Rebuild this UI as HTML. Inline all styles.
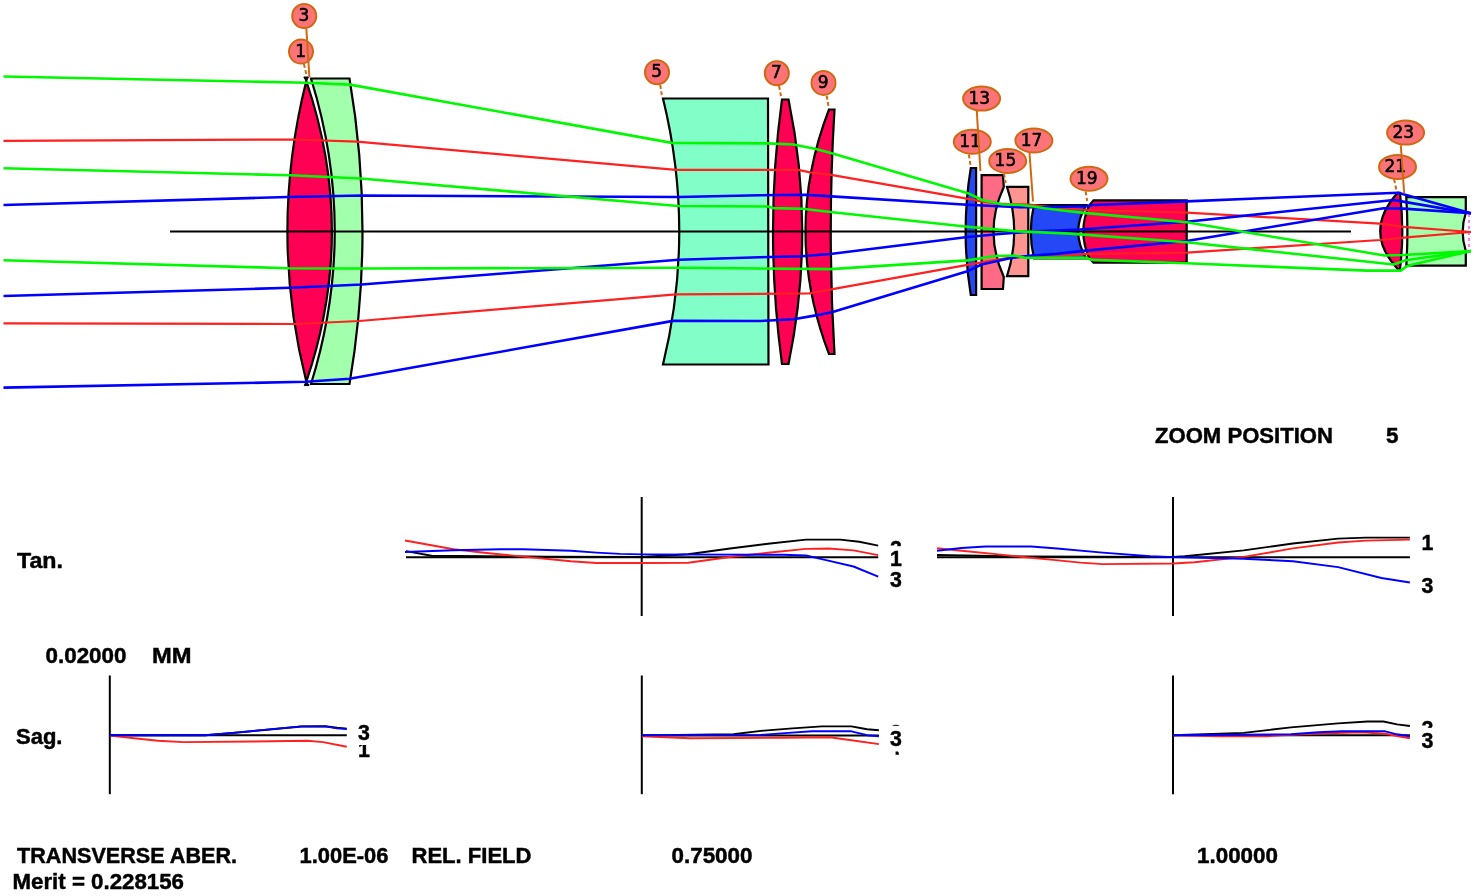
<!DOCTYPE html>
<html lang="en">
<head>
<meta charset="utf-8">
<title>Zoom lens layout and transverse aberration</title>
<style>
html,body{margin:0;padding:0;background:#fff;}
body{width:1474px;height:896px;overflow:hidden;}
svg{display:block;filter:blur(0.35px);}
.t{font-family:"Liberation Sans",Arial,sans-serif;font-weight:bold;font-size:21.3px;fill:#000;stroke:#000;stroke-width:0.45px;}
.lb{font-family:"DejaVu Sans","Liberation Sans",sans-serif;font-weight:normal;font-size:17px;fill:#000;stroke:#000;stroke-width:0.55px;}
</style>
</head>
<body>
<svg width="1474" height="896" viewBox="0 0 1474 896">
<rect width="1474" height="896" fill="#fff"/>
<g id="lenses">
<path d="M306.3,81 Q357.5,231.4 306.3,381.6 Q268.5,231.4 306.3,81 Z" fill="#FF0055" stroke="#000" stroke-width="2.2" stroke-linejoin="miter"/>
<path d="M303.8,77 L308.4,77 L306.3,81.5 Z M304.2,385.6 L309,385.6 L306.3,381 Z" fill="#000" stroke="#000" stroke-width="1" stroke-linejoin="round"/>
<path d="M311,78.5 L349.5,78.5 Q375.5,231.4 349.5,384 L311,384 Q358.5,231.4 311,78.5 Z" fill="#A2FFAC" stroke="#000" stroke-width="2.2" stroke-linejoin="miter"/>
<path d="M663,98.5 L768,98.5 L768.5,364.5 L663,364.5 Q695.5,231.4 663,98.5 Z" fill="#82FFC8" stroke="#000" stroke-width="2.2" stroke-linejoin="miter"/>
<path d="M782,99.5 L788.5,99.5 Q816,231.4 788.5,364 L782,364 Q764,231.4 782,99.5 Z" fill="#FF0055" stroke="#000" stroke-width="2.2" stroke-linejoin="miter"/>
<path d="M829,109.5 L834.5,109.5 Q827,231.4 834.5,354 L829,354 Q782,231.4 829,109.5 Z" fill="#FF0055" stroke="#000" stroke-width="2.2" stroke-linejoin="miter"/>
<path d="M970.8,168 L976.1,168 L976.1,295 L970.8,295 Q960.4,231.4 970.8,168 Z" fill="#2448F5" stroke="#000" stroke-width="2.2" stroke-linejoin="miter"/>
<path d="M981.6,175.2 L1003,175.2 L1003.8,187 Q983.2,231.4 1003.8,277 L1003,289 L981.6,289 Z" fill="#FF6A84" stroke="#000" stroke-width="2.2" stroke-linejoin="miter"/>
<path d="M1007,186.8 L1028.3,186.8 L1028.3,276.2 L1007,276.2 Q1021.5,231.4 1007,186.8 Z" fill="#FF9590" stroke="#000" stroke-width="2.2" stroke-linejoin="miter"/>
<path d="M1034,205.1 L1086.2,205.1 Q1070.2,231.4 1086.2,258.3 L1034,258.3 Q1027.6,231.4 1034,205.1 Z" fill="#2448F5" stroke="#000" stroke-width="2.2" stroke-linejoin="miter"/>
<path d="M1089,205.6 L1093.5,200.3 L1186.7,200.3 L1186.7,262.7 L1093.5,262.7 L1089,257.7 Q1077.6,231.4 1089,205.6 Z" fill="#FF0055" stroke="#000" stroke-width="2.2" stroke-linejoin="miter"/>
<path d="M1397.7,192.8 L1400,192.8 Q1404.6,231.4 1400,269 L1397.7,269 Q1362.8,231.4 1397.7,192.8 Z" fill="#FF0055" stroke="#000" stroke-width="2.2" stroke-linejoin="miter"/>
<path d="M1406.3,197.2 L1465.8,197.2 L1465.8,213 Q1459.5,231.4 1465.8,251 L1465.8,265.7 L1406.3,265.7 Q1408.5,231.4 1406.3,197.2 Z" fill="#A2FFAC" stroke="#000" stroke-width="2.2" stroke-linejoin="miter"/>
</g>
<line x1="170" y1="231.4" x2="1351" y2="231.4" stroke="#000" stroke-width="2"/>
<line x1="1469" y1="214" x2="1469" y2="251" stroke="#FF50F0" stroke-width="1.5" stroke-dasharray="3,3"/>
<g id="rays">
<polyline points="3.5,140.8 293.0,139.5 357.0,141.6 676.0,169.9 798.0,169.8 810.2,172.4 832.6,175.2 974.0,199.9 978.3,200.9 997.4,203.6 1029.0,204.6 1056.0,207.7 1087.0,210.0 1186.7,212.6 1380.0,223.6 1403.6,226.8 1470.9,232.0" fill="none" stroke="#FF2020" stroke-width="2.2" stroke-linejoin="round"/>
<polyline points="3.5,323.4 295.0,324.0 359.4,321.0 675.8,294.3 760.0,293.9 809.1,293.4 832.6,289.2 967.4,264.8 997.4,259.7 1013.3,257.1 1059.0,256.3 1084.0,254.2 1186.7,252.7 1380.0,240.0 1403.6,237.7 1470.9,232.0" fill="none" stroke="#FF2020" stroke-width="2.2" stroke-linejoin="round"/>
<polyline points="3.5,205.0 288.0,197.0 361.6,195.5 679.0,197.0 760.0,195.3 804.7,194.7 831.4,196.4 967.4,204.8 1020.0,207.3 1034.0,207.3 1086.5,206.3 1093.3,205.0 1186.7,201.4 1398.2,192.7 1470.9,213.2" fill="none" stroke="#0000FF" stroke-width="2.6" stroke-linejoin="round"/>
<polyline points="3.5,296.0 291.0,287.8 361.6,284.5 678.6,259.8 760.0,257.3 801.3,256.2 830.3,254.0 967.4,237.0 1002.7,233.8 1031.3,231.6 1080.0,229.5 1186.7,221.8 1393.6,200.0 1403.0,201.6 1470.9,213.2" fill="none" stroke="#0000FF" stroke-width="2.6" stroke-linejoin="round"/>
<polyline points="3.5,387.6 306.0,381.8 349.5,378.8 673.0,320.9 760.0,321.0 793.5,319.3 815.8,315.4 832.6,312.0 967.4,271.3 981.5,264.5 1013.3,257.6 1032.0,255.6 1056.6,253.8 1081.0,251.1 1186.7,241.0 1383.6,208.2 1403.6,208.6 1470.9,213.2" fill="none" stroke="#0000FF" stroke-width="2.6" stroke-linejoin="round"/>
<polyline points="3.5,76.5 306.5,82.8 350.0,84.6 671.8,142.9 768.0,143.4 793.5,144.5 815.8,149.0 832.6,153.4 967.9,193.2 982.1,200.0 1001.8,204.3 1020.0,205.0 1034.0,206.5 1044.4,208.3 1062.7,210.5 1084.1,212.9 1186.7,222.3 1384.5,255.5 1402.7,255.0 1470.9,251.1" fill="none" stroke="#00F800" stroke-width="2.6" stroke-linejoin="round"/>
<polyline points="3.5,168.3 290.0,175.3 361.0,178.5 678.0,206.0 767.8,206.5 773.4,208.1 802.4,208.7 830.3,212.0 967.4,226.8 1014.4,231.1 1070.0,233.6 1186.7,242.2 1393.6,264.5 1405.5,260.2 1470.9,251.1" fill="none" stroke="#00F800" stroke-width="2.6" stroke-linejoin="round"/>
<polyline points="3.5,260.2 288.7,268.2 361.6,268.5 679.0,267.8 760.0,268.5 830.3,269.1 967.4,260.4 995.3,256.0 1014.4,255.5 1024.0,257.6 1086.5,257.9 1092.6,259.9 1186.7,263.3 1367.3,270.6 1400.9,270.6 1406.4,266.4 1412.7,264.5 1470.9,251.1" fill="none" stroke="#00F800" stroke-width="2.6" stroke-linejoin="round"/>
</g>
<g id="labels">
<ellipse cx="304.2" cy="16" rx="12" ry="12" fill="#FC7478" stroke="#D06812" stroke-width="2"/><text x="303.9" y="21.0" text-anchor="middle" class="lb">3</text>
<ellipse cx="301" cy="51.6" rx="12" ry="12" fill="#FC7478" stroke="#D06812" stroke-width="2"/><text x="300.7" y="56.6" text-anchor="middle" class="lb">1</text>
<ellipse cx="657" cy="72.3" rx="12" ry="12" fill="#FC7478" stroke="#D06812" stroke-width="2"/><text x="656.7" y="77.3" text-anchor="middle" class="lb">5</text>
<ellipse cx="776.8" cy="73.3" rx="12" ry="12" fill="#FC7478" stroke="#D06812" stroke-width="2"/><text x="776.5" y="78.3" text-anchor="middle" class="lb">7</text>
<ellipse cx="823.5" cy="82.9" rx="12" ry="12" fill="#FC7478" stroke="#D06812" stroke-width="2"/><text x="823.2" y="87.9" text-anchor="middle" class="lb">9</text>
<ellipse cx="981.6" cy="98.6" rx="18.5" ry="12" fill="#FC7478" stroke="#D06812" stroke-width="2"/><text x="979.3000000000001" y="103.6" text-anchor="middle" class="lb">13</text>
<ellipse cx="972.3" cy="141.8" rx="18.5" ry="12" fill="#FC7478" stroke="#D06812" stroke-width="2"/><text x="970.0" y="146.8" text-anchor="middle" class="lb">11</text>
<ellipse cx="1007.7" cy="161" rx="18.5" ry="12" fill="#FC7478" stroke="#D06812" stroke-width="2"/><text x="1005.4000000000001" y="166.0" text-anchor="middle" class="lb">15</text>
<ellipse cx="1033.9" cy="140.5" rx="18.5" ry="12" fill="#FC7478" stroke="#D06812" stroke-width="2"/><text x="1031.6000000000001" y="145.5" text-anchor="middle" class="lb">17</text>
<ellipse cx="1089" cy="178.8" rx="18.5" ry="12" fill="#FC7478" stroke="#D06812" stroke-width="2"/><text x="1086.7" y="183.8" text-anchor="middle" class="lb">19</text>
<ellipse cx="1405.6" cy="132.6" rx="18.5" ry="12" fill="#FC7478" stroke="#D06812" stroke-width="2"/><text x="1403.3" y="137.6" text-anchor="middle" class="lb">23</text>
<ellipse cx="1397.5" cy="166.9" rx="18.5" ry="12" fill="#FC7478" stroke="#D06812" stroke-width="2"/><text x="1395.2" y="171.9" text-anchor="middle" class="lb">21</text>
<line x1="306.3" y1="28.2" x2="309.4" y2="77" stroke="#D06812" stroke-width="2"/>
<line x1="303.9" y1="63.8" x2="306.3" y2="74" stroke="#D06812" stroke-width="2" stroke-dasharray="4,2.5"/>
<line x1="660.2" y1="85" x2="661.8" y2="95" stroke="#D06812" stroke-width="2" stroke-dasharray="4,2.5"/>
<line x1="779" y1="86" x2="781" y2="96" stroke="#D06812" stroke-width="2" stroke-dasharray="4,2.5"/>
<line x1="826.7" y1="95.6" x2="828.4" y2="106" stroke="#D06812" stroke-width="2" stroke-dasharray="4,2.5"/>
<line x1="976.8" y1="111" x2="980.4" y2="171" stroke="#D06812" stroke-width="2"/>
<line x1="968.8" y1="154.5" x2="970.5" y2="165" stroke="#D06812" stroke-width="2" stroke-dasharray="4,2.5"/>
<line x1="1004" y1="173.6" x2="1005.7" y2="183" stroke="#D06812" stroke-width="2" stroke-dasharray="4,2.5"/>
<line x1="1029.5" y1="153" x2="1033" y2="201.5" stroke="#D06812" stroke-width="2"/>
<line x1="1085.6" y1="191.5" x2="1087.2" y2="201" stroke="#D06812" stroke-width="2" stroke-dasharray="4,2.5"/>
<line x1="1400.8" y1="145.2" x2="1404.2" y2="193.5" stroke="#D06812" stroke-width="2"/>
<line x1="1394.1" y1="179.2" x2="1396.3" y2="189.5" stroke="#D06812" stroke-width="2" stroke-dasharray="4,2.5"/>
</g>
<g id="plots">
<line x1="641.7" y1="497" x2="641.7" y2="616" stroke="#000" stroke-width="2"/>
<line x1="406" y1="557.2" x2="878.2" y2="557.2" stroke="#000" stroke-width="2"/>
<polyline points="406.0,551.1 431.6,555.7 547.0,556.6 641.7,557.0 688.2,554.2 730.0,548.5 768.0,543.7 806.0,539.6 840.2,539.6 859.2,541.8 878.2,545.6" fill="none" stroke="#000" stroke-width="1.9" stroke-linejoin="round"/>
<polyline points="405.0,540.5 453.6,549.3 486.6,553.0 523.2,556.6 570.9,561.2 596.5,563.0 641.7,563.0 688.2,562.7 730.0,557.0 768.0,552.7 806.0,548.9 828.8,548.5 853.5,550.4 878.2,555.1" fill="none" stroke="#FF2020" stroke-width="1.9" stroke-linejoin="round"/>
<polyline points="405.0,552.0 453.6,550.2 501.0,549.3 523.0,549.3 571.0,550.8 596.5,552.6 620.0,553.9 641.7,554.4 783.2,554.8 806.0,555.5 825.0,559.9 853.5,566.5 878.2,576.6" fill="none" stroke="#0000FF" stroke-width="1.9" stroke-linejoin="round"/>
<text x="890" y="555.8" class="t">2</text>
<rect x="888" y="546.2" width="16" height="25" fill="#fff"/>
<text x="890" y="566.0" class="t">1</text>
<rect x="888" y="566.9000000000001" width="16" height="25" fill="#fff"/>
<text x="890" y="586.7" class="t">3</text>
<line x1="1173" y1="497" x2="1173" y2="616" stroke="#000" stroke-width="2"/>
<line x1="937" y1="557.2" x2="1409.9" y2="557.2" stroke="#000" stroke-width="2"/>
<polyline points="937.0,555.0 1020.0,556.5 1173.0,557.0 1184.7,556.3 1243.7,550.4 1292.9,543.5 1338.1,538.6 1365.7,537.6 1409.9,537.6" fill="none" stroke="#000" stroke-width="1.9" stroke-linejoin="round"/>
<polyline points="937.0,548.3 961.6,550.7 998.3,554.4 1020.3,556.8 1053.2,559.9 1080.7,562.6 1102.7,564.1 1173.2,563.5 1194.5,562.2 1243.7,556.9 1292.9,548.4 1338.1,542.5 1365.7,540.6 1409.9,539.6" fill="none" stroke="#FF2020" stroke-width="1.9" stroke-linejoin="round"/>
<polyline points="937.0,550.7 961.6,548.0 985.5,546.5 1031.2,546.5 1057.0,548.5 1102.7,552.6 1150.3,556.2 1173.2,557.1 1243.7,558.7 1292.9,561.2 1338.1,567.1 1381.4,578.0 1409.9,582.5" fill="none" stroke="#0000FF" stroke-width="1.9" stroke-linejoin="round"/>
<text x="1421.5" y="548.0" class="t">2</text>
<rect x="1419.5" y="530.0" width="16" height="25" fill="#fff"/>
<text x="1421.5" y="549.8" class="t">1</text>
<rect x="1419.5" y="573.5" width="16" height="25" fill="#fff"/>
<text x="1421.5" y="593.3" class="t">3</text>
<line x1="109.8" y1="675.5" x2="109.8" y2="794.2" stroke="#000" stroke-width="2"/>
<line x1="109.8" y1="735.3" x2="346.8" y2="735.3" stroke="#000" stroke-width="2"/>
<polyline points="109.8,735.2 205.2,735.2 232.7,733.0 264.2,730.0 301.6,726.5 325.2,726.2 337.0,727.8 346.8,728.6" fill="none" stroke="#000" stroke-width="1.9" stroke-linejoin="round"/>
<polyline points="109.8,735.6 134.3,738.2 158.0,740.8 183.5,742.1 252.4,741.5 307.5,740.8 323.2,742.1 346.8,746.7" fill="none" stroke="#FF2020" stroke-width="1.9" stroke-linejoin="round"/>
<polyline points="109.8,735.2 205.2,735.2 232.7,732.9 264.2,729.9 301.6,726.4 325.2,726.4 337.0,728.4 346.8,729.0" fill="none" stroke="#0000FF" stroke-width="1.9" stroke-linejoin="round"/>
<text x="358" y="756.9" class="t">1</text>
<rect x="356" y="720.0" width="16" height="25" fill="#fff"/>
<text x="358" y="739.8" class="t">3</text>
<line x1="641.8" y1="675.5" x2="641.8" y2="794.2" stroke="#000" stroke-width="2"/>
<line x1="641.8" y1="735.5" x2="878.9" y2="735.5" stroke="#000" stroke-width="2"/>
<polyline points="641.9,735.4 733.4,734.3 760.9,730.9 792.4,728.4 821.9,726.4 851.4,726.4 867.1,729.3 878.9,730.3" fill="none" stroke="#000" stroke-width="1.9" stroke-linejoin="round"/>
<polyline points="641.9,736.2 690.0,738.2 782.5,737.8 829.8,737.2 851.4,740.2 878.9,744.1" fill="none" stroke="#FF2020" stroke-width="1.9" stroke-linejoin="round"/>
<polyline points="641.9,735.2 760.9,734.9 788.4,732.9 812.0,731.3 851.4,731.3 867.1,735.2 878.9,736.2" fill="none" stroke="#0000FF" stroke-width="1.9" stroke-linejoin="round"/>
<text x="890" y="739.8" class="t">2</text>
<clipPath id="c1"><rect x="895.6" y="751.6" width="3.2" height="3.2"/></clipPath>
<g clip-path="url(#c1)"><text x="890" y="754.6" class="t">1</text></g>
<rect x="888" y="725.9000000000001" width="16" height="25" fill="#fff"/>
<text x="890" y="745.7" class="t">3</text>
<line x1="1173" y1="675.5" x2="1173" y2="794.2" stroke="#000" stroke-width="2"/>
<line x1="1173" y1="735.3" x2="1409.9" y2="735.3" stroke="#000" stroke-width="2"/>
<polyline points="1173.0,735.2 1243.7,732.9 1290.9,727.4 1338.1,723.4 1367.6,721.5 1383.4,721.5 1397.1,724.4 1409.9,726.0" fill="none" stroke="#000" stroke-width="1.9" stroke-linejoin="round"/>
<polyline points="1173.0,735.4 1220.0,736.2 1267.0,736.2 1318.0,733.5 1361.7,732.3 1385.3,733.7 1397.0,736.0 1409.9,738.2" fill="none" stroke="#FF2020" stroke-width="1.9" stroke-linejoin="round"/>
<polyline points="1173.0,735.2 1290.9,734.3 1318.5,732.3 1342.0,731.3 1385.3,731.3 1397.1,734.3 1409.9,736.2" fill="none" stroke="#0000FF" stroke-width="1.9" stroke-linejoin="round"/>
<text x="1421.5" y="736.0" class="t">2</text>
<rect x="1419.5" y="727.9000000000001" width="16" height="25" fill="#fff"/>
<text x="1421.5" y="747.7" class="t">3</text>
</g>
<text x="1155" y="443" class="t" textLength="178" lengthAdjust="spacingAndGlyphs">ZOOM POSITION</text>
<text x="1386" y="443" class="t" textLength="12.5" lengthAdjust="spacingAndGlyphs">5</text>
<text x="17" y="567.5" class="t" textLength="46" lengthAdjust="spacingAndGlyphs">Tan.</text>
<text x="45.5" y="663" class="t" textLength="81" lengthAdjust="spacingAndGlyphs">0.02000</text>
<text x="152" y="663" class="t" textLength="39.5" lengthAdjust="spacingAndGlyphs">MM</text>
<text x="16" y="744.3" class="t" textLength="46.5" lengthAdjust="spacingAndGlyphs">Sag.</text>
<text x="17" y="863" class="t" textLength="220" lengthAdjust="spacingAndGlyphs">TRANSVERSE ABER.</text>
<text x="299.5" y="863" class="t" textLength="89" lengthAdjust="spacingAndGlyphs">1.00E-06</text>
<text x="411.5" y="863" class="t" textLength="120" lengthAdjust="spacingAndGlyphs">REL. FIELD</text>
<text x="671.5" y="863" class="t" textLength="81" lengthAdjust="spacingAndGlyphs">0.75000</text>
<text x="1197" y="863" class="t" textLength="81" lengthAdjust="spacingAndGlyphs">1.00000</text>
<text x="12.5" y="888.6" class="t" textLength="171.5" lengthAdjust="spacingAndGlyphs">Merit = 0.228156</text>
</svg>
</body>
</html>
